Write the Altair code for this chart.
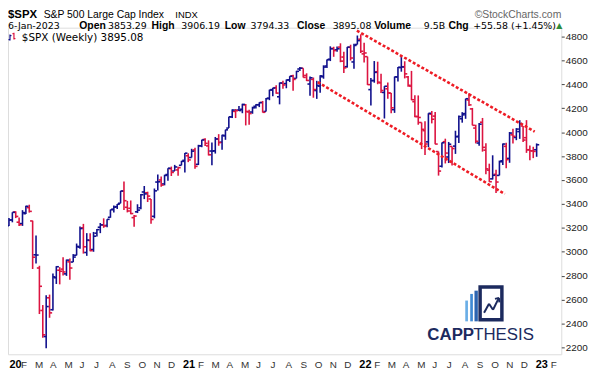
import json
import altair as alt
import pandas as pd

# ------------------------------------------------------------------ data
week_end = pd.date_range("2020-01-10", periods=157, freq="W-FRI").strftime("%Y-%m-%d").tolist()

opens = [
    # 2020
    3217.55, 3266.03, 3333.10, 3247.16, 3235.66, 3318.28, 3369.04, 3257.61,
    2974.28, 2863.89, 2508.59, 2290.71, 2614.69, 2514.92, 2782.46, 2845.62,
    2854.65, 2815.01, 2915.46, 2913.86, 2971.00, 3038.78, 3199.92, 2993.76,
    3094.42, 3018.59, 3155.29, 3205.08, 3224.29, 3219.84, 3288.26, 3356.04,
    3377.09, 3405.49, 3507.44, 3371.88, 3363.56, 3285.57, 3333.90, 3367.27,
    3500.02, 3493.50, 3441.42, 3296.20, 3583.04, 3600.16, 3566.82, 3645.87,
    3694.73, 3675.27, 3684.28, 3723.03,
    # 2021
    3764.61, 3803.14, 3788.37, 3851.68, 3731.17, 3885.55, 3939.61, 3885.55,
    3842.51, 3844.39, 3942.96, 3916.48, 3969.31, 4034.44, 4127.99, 4174.14,
    4185.03, 4191.98, 4228.29, 4169.92, 4168.61, 4216.52, 4229.34, 4248.87,
    4173.40, 4284.90, 4356.46, 4372.41, 4296.40, 4409.58, 4406.86, 4437.77,
    4471.52, 4450.29, 4528.80, 4535.38, 4474.81, 4402.95, 4442.12, 4348.84,
    4385.44, 4463.72, 4553.69, 4610.62, 4701.48, 4689.30, 4712.00, 4628.75,
    4548.37, 4710.30, 4587.90, 4733.99,
    # 2022
    4778.14, 4655.34, 4632.24, 4356.32, 4431.79, 4505.75, 4412.61, 4332.74,
    4363.14, 4327.01, 4188.82, 4462.40, 4541.09, 4547.97, 4462.64, 4385.63,
    4255.34, 4130.61, 4081.27, 4013.02, 3919.42, 4151.09, 4134.72, 3838.15,
    3715.31, 3920.76, 3792.61, 3880.94, 3883.79, 3965.72, 4112.38, 4155.93,
    4269.37, 4195.08, 4034.58, 3909.43, 4083.67, 3849.91, 3682.72, 3609.78,
    3647.51, 3638.65, 3761.00, 3881.86, 3780.71, 3977.97, 3956.23, 4005.36,
    4052.02, 3954.17, 3853.79, 3843.34,
    # 2023
    3853.29,
]
highs = [
    3282.99, 3329.88, 3337.77, 3285.91, 3347.96, 3385.09, 3393.52, 3259.81,
    3136.72, 2882.59, 2553.93, 2637.01, 2641.39, 2818.57, 2879.22, 2871.59,
    2954.86, 2934.32, 2944.25, 2980.29, 3068.67, 3211.72, 3233.13, 3155.53,
    3155.29, 3165.81, 3190.82, 3240.54, 3279.32, 3272.17, 3352.54, 3387.89,
    3399.96, 3509.23, 3588.11, 3425.55, 3428.92, 3306.88, 3397.18, 3482.34,
    3549.85, 3502.42, 3441.42, 3529.05, 3645.99, 3628.51, 3644.31, 3699.20,
    3712.39, 3726.70, 3711.24, 3760.20,
    3826.69, 3823.60, 3861.45, 3870.90, 3894.56, 3937.23, 3950.43, 3932.12,
    3914.50, 3960.27, 3983.87, 3978.19, 4020.63, 4129.48, 4191.31, 4194.17,
    4218.78, 4238.04, 4236.39, 4188.72, 4213.42, 4234.12, 4249.74, 4261.66,
    4286.12, 4355.78, 4372.87, 4393.68, 4415.18, 4429.97, 4440.82, 4468.73,
    4480.26, 4513.33, 4545.85, 4535.38, 4492.81, 4465.40, 4457.66, 4429.97,
    4475.82, 4559.67, 4608.08, 4718.50, 4714.92, 4717.75, 4743.83, 4672.95,
    4713.57, 4731.99, 4740.74, 4808.93,
    4818.62, 4748.83, 4632.24, 4453.23, 4595.31, 4590.03, 4489.55, 4385.04,
    4416.78, 4327.01, 4465.40, 4546.03, 4637.30, 4593.45, 4471.00, 4512.94,
    4308.45, 4307.66, 4081.27, 4090.72, 4158.49, 4177.51, 4168.78, 3838.15,
    3913.65, 3945.86, 3918.50, 3880.94, 4012.44, 4140.15, 4167.66, 4280.47,
    4325.28, 4203.04, 4062.99, 4076.81, 4119.28, 3907.07, 3736.74, 3806.91,
    3685.41, 3762.79, 3905.42, 3911.79, 4001.48, 4028.84, 4034.02, 4100.51,
    4052.45, 4100.96, 3889.00, 3878.30,
    3906.19,
]
lows = [
    3214.64, 3246.15, 3281.53, 3214.68, 3216.19, 3315.19, 3327.80, 2855.84,
    2901.54, 2478.86, 2280.52, 2191.86, 2447.49, 2508.60, 2730.44, 2727.10,
    2801.88, 2797.85, 2766.64, 2913.86, 2969.75, 3025.17, 2984.47, 2965.66,
    3003.63, 2999.74, 3127.66, 3155.58, 3200.00, 3204.13, 3284.53, 3327.86,
    3357.32, 3405.49, 3349.63, 3329.25, 3313.59, 3209.45, 3323.69, 3354.54,
    3440.45, 3415.86, 3233.94, 3279.74, 3511.91, 3543.56, 3555.37, 3594.73,
    3633.40, 3675.27, 3636.48, 3723.03,
    3662.71, 3749.62, 3788.37, 3694.12, 3725.62, 3874.46, 3884.11, 3805.59,
    3723.34, 3821.35, 3886.75, 3853.50, 3936.31, 4034.44, 4118.38, 4118.38,
    4176.81, 4158.91, 4056.88, 4061.41, 4154.28, 4197.59, 4210.00, 4164.40,
    4173.40, 4267.97, 4300.41, 4321.07, 4233.13, 4363.70, 4367.73, 4419.55,
    4347.53, 4450.29, 4513.08, 4457.66, 4427.76, 4305.91, 4288.52, 4278.94,
    4329.92, 4447.47, 4537.36, 4595.06, 4630.86, 4672.78, 4585.43, 4495.12,
    4540.51, 4600.22, 4531.10, 4733.99,
    4662.74, 4582.24, 4395.34, 4222.62, 4414.02, 4401.41, 4327.22, 4114.65,
    4279.54, 4157.87, 4161.72, 4424.30, 4506.27, 4450.04, 4381.34, 4267.62,
    4124.28, 4062.51, 3858.87, 3810.32, 3875.13, 4073.85, 3900.16, 3636.87,
    3705.68, 3738.67, 3742.06, 3721.56, 3818.63, 3910.74, 4079.81, 4112.09,
    4218.70, 4057.66, 3906.21, 3886.75, 3837.08, 3647.47, 3584.13, 3604.93,
    3491.58, 3638.65, 3725.39, 3698.15, 3744.22, 3906.54, 3933.30, 3944.35,
    3918.39, 3827.10, 3764.49, 3783.22,
    3794.33,
]
closes = [
    3265.35, 3329.62, 3295.47, 3225.52, 3327.71, 3380.16, 3337.75, 2954.22,
    2972.37, 2711.02, 2304.92, 2541.47, 2488.65, 2789.82, 2874.56, 2836.74,
    2830.71, 2929.80, 2863.70, 2955.45, 3044.31, 3193.93, 3041.31, 3097.74,
    3009.05, 3130.01, 3185.04, 3224.73, 3215.63, 3271.12, 3351.28, 3372.85,
    3397.16, 3508.01, 3426.96, 3340.97, 3319.47, 3298.46, 3348.44, 3477.13,
    3483.81, 3465.39, 3269.96, 3509.44, 3585.15, 3557.54, 3638.35, 3699.12,
    3663.46, 3709.41, 3703.06, 3756.07,
    3824.68, 3768.25, 3841.47, 3714.24, 3886.83, 3934.83, 3906.71, 3811.15,
    3841.94, 3943.34, 3913.10, 3974.54, 4019.87, 4128.80, 4185.47, 4180.17,
    4181.17, 4232.60, 4173.85, 4155.86, 4204.11, 4229.89, 4247.44, 4166.45,
    4280.70, 4352.34, 4369.55, 4327.16, 4411.79, 4395.26, 4436.52, 4468.00,
    4441.67, 4509.37, 4535.43, 4458.58, 4432.99, 4455.48, 4357.04, 4391.34,
    4471.37, 4544.90, 4605.38, 4697.53, 4682.85, 4697.96, 4594.62, 4538.43,
    4712.02, 4620.64, 4725.79, 4766.18,
    4677.03, 4662.85, 4397.94, 4431.85, 4500.53, 4418.64, 4348.87, 4384.65,
    4328.87, 4204.31, 4463.12, 4543.06, 4545.86, 4488.28, 4392.59, 4271.78,
    4131.93, 4123.34, 4023.89, 3901.36, 4158.24, 4108.54, 3900.86, 3674.84,
    3911.74, 3825.33, 3899.38, 3863.16, 3961.63, 4130.29, 4145.19, 4280.15,
    4228.48, 4057.66, 3924.26, 4067.36, 3873.33, 3693.23, 3585.62, 3639.66,
    3583.07, 3752.75, 3901.06, 3770.55, 3992.93, 3965.34, 4026.12, 4071.70,
    3934.38, 3852.36, 3844.82, 3839.50,
    3895.08,
]
prior_close = 3234.85  # close of the week before the first bar

upper_dates = ["2021-12-30", "2023-01-02"]
upper_vals = [4850, 4005]
lower_dates = ["2021-10-10", "2022-11-01"]
lower_vals = [4419, 3483]

y_ticks = [2200, 2400, 2600, 2800, 3000, 3200, 3400, 3600, 3800, 4000, 4200, 4400, 4600, 4800]
month_letters = ["J", "F", "M", "A", "M", "J", "J", "A", "S", "O", "N", "D"]
x_tick_dates = ["2020-01-08"] + pd.date_range("2020-02-01", "2023-02-01", freq="MS").strftime("%Y-%m-%d").tolist()

assert len(week_end) == len(opens) == len(highs) == len(lows) == len(closes) == 157

# ------------------------------------------------------------------ helpers
def ms(s):
    return int(pd.Timestamp(s, tz="UTC").value // 10**6)

prev = [prior_close] + closes[:-1]
dirs = ["up" if c > p else "down" for c, p in zip(closes, prev)]
df = pd.DataFrame({"date": week_end, "open": opens, "high": highs,
                   "low": lows, "close": closes, "dir": dirs})
trend = pd.DataFrame({"date": upper_dates + lower_dates,
                      "price": upper_vals + lower_vals,
                      "line": ["upper"] * 2 + ["lower"] * 2})

BLUE = "#10108c"
RED = "#dc1440"
NAVY = "#1c2a5e"

xscale = alt.Scale(type="utc", domain=[ms("2020-01-08"), ms("2023-02-26")], nice=False)
is_year = "utcmonth(datum.value) == 0"
xaxis = alt.Axis(
    values=[ms(d) for d in x_tick_dates],
    labelExpr=f"{is_year} ? utcFormat(datum.value, '%y') : {json.dumps(month_letters)}[utcmonth(datum.value)]",
    labelAlign="left", labelBaseline="alphabetic", labelPadding=13, labelOffset=1,
    ticks=False, tickSize=0, domain=False, grid=False, labelFlush=False,
    labelOverlap=False, title=None, labelFont="Liberation Sans",
    labelFontSize={"condition": {"test": is_year, "value": 11}, "value": 10},
    labelFontWeight={"condition": {"test": is_year, "value": "bold"}, "value": "normal"},
    labelColor={"condition": {"test": is_year, "value": "#000000"}, "value": "#333333"},
)
yscale = alt.Scale(domain=[2142, 4874.5], nice=False, zero=False)
yaxis = alt.Axis(orient="right", values=y_ticks, title=None, grid=False, domain=False,
                 tickSize=3, tickColor="#444444", labelPadding=1, labelFont="Liberation Sans",
                 labelFontSize=10, labelColor="#222222", labelBaseline="middle", format="d",
                 labelFlush=False, labelOverlap=False)

X = alt.X("date:T", scale=xscale, axis=xaxis)
color = alt.Color("dir:N", scale=alt.Scale(domain=["up", "down"], range=[BLUE, RED]), legend=None)

base = alt.Chart(df)
hl = base.mark_rule(strokeWidth=1.6).encode(
    x=X, y=alt.Y("low:Q", scale=yscale, axis=yaxis), y2="high:Q", color=color)
op = base.mark_rule(strokeWidth=1.6, xOffset=-2.6, x2Offset=0).encode(
    x=X, x2="date:T", y=alt.Y("open:Q", scale=yscale, axis=yaxis), color=color)
cl = base.mark_rule(strokeWidth=1.6, xOffset=0, x2Offset=2.6).encode(
    x=X, x2="date:T", y=alt.Y("close:Q", scale=yscale, axis=yaxis), color=color)
tl = alt.Chart(trend).mark_line(color="#ee1c25", strokeWidth=2.6, strokeDash=[3, 2]).encode(
    x=X, y=alt.Y("price:Q", scale=yscale, axis=yaxis), detail="line:N")

one = pd.DataFrame({"k": [0]})

def txt(s, x, y, size, weight="normal", color="#000000", font="Liberation Sans", align="left"):
    return alt.Chart(pd.DataFrame({"t": [s]})).mark_text(
        align=align, baseline="alphabetic", font=font, fontSize=size,
        fontWeight=weight, color=color).encode(text="t:N", x=alt.value(x), y=alt.value(y))

def box(x1, y1, x2, y2, c):
    return alt.Chart(one).mark_rect(color=c).encode(
        x=alt.value(x1), x2=alt.value(x2), y=alt.value(y1), y2=alt.value(y2))

def seg(x1, y1, x2, y2, c, w):
    return alt.Chart(one).mark_rule(color=c, strokeWidth=w).encode(
        x=alt.value(x1), x2=alt.value(x2), y=alt.value(y1), y2=alt.value(y2))

DV = "DejaVu Sans"
L1 = -9.8   # baseline of header line 1 (plot coordinates)
L2 = 1.3    # baseline of header line 2
deco = [
    # header line 1
    txt("$SPX", 0, -10, 11.5, "bold"),
    txt("S&P 500 Large Cap Index", 36, L1, 10.5),
    txt("INDX", 169, L1, 9.5),
    txt("\u00a9StockCharts.com", 559, L1 - 0.3, 10.5, color="#666666", align="right"),
    # header line 2
    txt("6-Jan-2023", 0, L2, 9.5, font=DV),
    txt("Open", 72, L2, 10.5, "bold"),
    txt("3853.29", 101, L2, 9.5, font=DV),
    txt("High", 145, L2, 10.5, "bold"),
    txt("3906.19", 175, L2, 9.5, font=DV),
    txt("Low", 219, L2, 10.5, "bold"),
    txt("3794.33", 245, L2, 9.5, font=DV),
    txt("Close", 292, L2, 10.5, "bold"),
    txt("3895.08", 328, L2, 9.5, font=DV),
    txt("Volume", 370, L2, 10.5, "bold"),
    txt("9.5B", 420, L2, 9.5, font=DV),
    txt("Chg", 445, L2, 10.5, "bold"),
    txt("+55.58 (+1.45%)", 470, L2, 9.5, font=DV),
    txt("\u25b2", 554, L2 - 1, 8, color="#2e8b3a", font=DV),
    # in-plot legend
    seg(2, 7, 2, 13, BLUE, 1.2), seg(0.5, 12, 2, 12, BLUE, 1.2), seg(2, 8, 3.5, 8, BLUE, 1.2),
    seg(6, 5, 6, 12, RED, 1.2), seg(4.5, 6, 6, 6, RED, 1.2), seg(6, 11, 7.5, 11, RED, 1.2),
    txt("$SPX (Weekly) 3895.08", 14, 13.5, 10.5, font=DV),
    # logo
    box(462, 275.7, 464.7, 296.7, "#6aaee6"),
    box(467, 269, 469.7, 296.7, "#3f8ad4"),
    box(471.3, 265.7, 474.7, 296.7, "#2b63b0"),
    alt.Chart(one).mark_rect(fill="white", stroke=NAVY, strokeWidth=3.5).encode(
        x=alt.value(477), x2=alt.value(499), y=alt.value(262), y2=alt.value(295)),
    seg(481, 288, 486, 279, NAVY, 2), seg(486, 279, 490, 285, NAVY, 2),
    seg(490, 285, 496, 273, NAVY, 2), seg(496, 273, 492, 274, NAVY, 2),
    seg(496, 273, 496.5, 277.5, NAVY, 2),
    txt("CAPP", 423.7, 315.7, 17, "bold", NAVY),
    txt("THESIS", 470, 315.7, 17, "normal", NAVY),
]

chart = alt.layer(hl, op, cl, tl, *deco).properties(
    width=559, height=330,
    autosize=alt.AutoSizeParams(type="none"),
    padding={"left": 0, "top": 18, "right": 27, "bottom": 16},
).configure_view(stroke="#c4c4c4", strokeWidth=1).configure(background="white")

chart.save("out.html", embed_options={"renderer": "svg", "actions": False})
